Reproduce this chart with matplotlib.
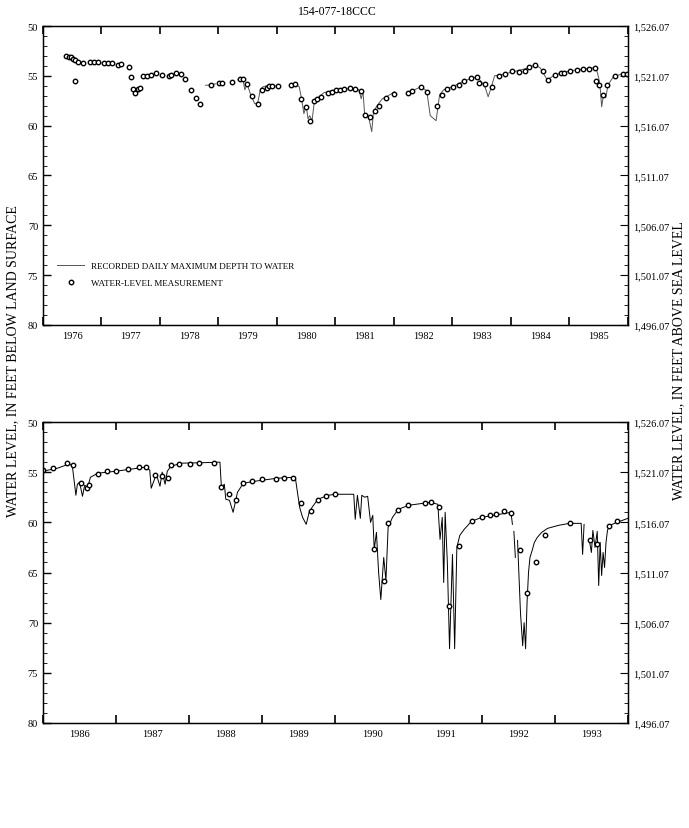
import numpy as np
import matplotlib
matplotlib.use("Agg")
import matplotlib.pyplot as plt
from matplotlib.ticker import MultipleLocator, FixedLocator, NullFormatter, FuncFormatter

plt.rcParams['font.family'] = ['Liberation Serif', 'DejaVu Serif']

title = "154-077-18CCC"
# ---- top panel (1976-1986) measurements ----
m1_off = [0.388,0.441,0.479,0.517,0.555,0.593,0.548,0.677,0.798,0.875,0.935,1.042,1.103,1.186,1.278,1.331,
          1.468,1.513,1.544,1.574,1.620,1.658,1.711,1.772,1.848,1.932,2.030,2.152,2.183,2.266,2.365,2.426,
          2.525,2.608,2.692,2.875,3.004,3.065,3.224,3.361,3.414,3.490,3.567,3.673,3.741,3.825,3.871,3.916,
          4.023,4.236,4.312,4.418,4.494,4.563,4.639,4.677,4.753,4.867,4.935,5.004,5.080,5.148,5.240,5.331,
          5.430,5.506,5.582,5.673,5.749,5.863,6.000,6.243,6.304,6.456,6.563,6.730,6.814,6.913,7.004,7.118,
          7.202,7.323,7.414,7.460,7.551,7.673,7.795,7.901,8.023,8.129,8.236,8.312,8.411,8.540,8.639,8.753,
          8.859,8.905,9.011,9.125,9.224,9.338,9.430,9.452,9.513,9.574,9.650,9.772,9.909,9.985]
m1_val = [53.01,53.07,53.07,53.27,53.41,53.61,55.48,53.74,53.64,53.61,53.61,53.68,53.68,53.74,53.88,53.81,
          54.11,55.08,56.28,56.75,56.35,56.21,55.01,55.01,54.94,54.68,54.88,55.01,54.94,54.74,54.81,55.28,
          56.41,57.18,57.79,55.91,55.68,55.68,55.65,55.35,55.35,55.81,56.98,57.79,56.38,56.21,56.01,56.01,
          56.01,55.95,55.78,57.28,58.09,59.52,57.52,57.35,57.08,56.75,56.58,56.41,56.41,56.35,56.25,56.28,
          56.48,58.93,59.09,58.56,58.02,57.18,56.85,56.75,56.48,56.08,56.58,58.02,56.88,56.28,56.11,55.95,
          55.51,55.21,55.11,55.75,55.78,56.11,54.98,54.81,54.51,54.58,54.51,54.14,53.91,54.55,55.41,54.94,
          54.68,54.68,54.48,54.41,54.34,54.31,54.24,55.55,55.95,56.92,55.88,55.05,54.81,54.81]
# recorded line, top panel (NaN = gap)
l1_off = [2.78,2.88,2.95,np.nan,3.33,3.42,3.45,3.49,3.55,3.62,3.67,3.72,3.76,3.82,3.90,4.03,np.nan,
          4.25,4.31,4.38,4.42,4.46,4.50,4.53,4.56,4.60,4.64,4.70,4.80,5.00,5.20,5.33,5.40,5.44,5.47,5.50,
          5.55,5.58,5.62,5.65,5.70,5.80,5.90,6.01,np.nan,6.22,6.35,6.46,6.56,6.62,6.68,6.72,6.78,6.85,
          7.00,7.20,7.42,7.48,7.55,7.61,7.66,7.72,7.90,8.10,8.30,8.41,8.50,8.62,8.75,9.00,9.40,9.46,9.50,
          9.53,9.55,9.58,9.62,9.66,9.75,9.90,10.0]
l1_val = [55.95,55.9,55.8,np.nan,55.4,55.4,56.4,55.8,56.9,57.8,57.7,56.3,56.1,56.0,56.0,56.0,np.nan,
          55.9,55.8,56.1,57.3,58.8,58.0,59.3,59.0,59.5,57.5,57.2,56.7,56.4,56.3,56.3,56.4,57.3,56.5,59.0,
          58.9,59.5,60.6,58.6,58.1,57.3,57.0,56.6,np.nan,56.8,56.4,56.1,56.5,59.0,59.3,59.5,56.9,56.4,
          56.1,55.5,55.1,55.5,56.0,57.1,56.2,55.0,54.8,54.5,54.2,53.9,54.2,55.4,54.9,54.5,54.2,54.3,55.2,
          56.5,58.1,57.0,57.2,55.9,55.1,54.8,54.8]

# ---- bottom panel (1986-1994) measurements ----
m2_off = [0.006,0.140,0.328,0.407,0.522,0.601,0.631,0.753,0.880,1.002,1.160,1.311,1.403,1.530,1.633,1.706,
          1.749,1.864,2.004,2.131,2.338,2.435,2.544,2.635,2.738,2.854,2.993,3.182,3.297,3.418,3.534,3.667,
          3.758,3.868,3.995,4.529,4.663,4.724,4.857,4.997,5.222,5.301,5.422,5.550,5.689,5.865,6.005,6.120,
          6.199,6.302,6.406,6.521,6.624,6.745,6.861,7.207,7.480,7.577,7.747,7.857]
m2_val = [54.81,54.61,54.04,54.24,56.10,56.53,56.23,55.14,54.87,54.84,54.71,54.47,54.47,55.27,55.34,55.54,
          54.31,54.14,54.14,54.11,54.04,56.50,57.16,57.76,56.10,55.87,55.70,55.63,55.54,55.54,58.12,58.88,
          57.76,57.42,57.13,62.69,65.81,60.11,58.72,58.29,58.12,57.95,58.49,68.33,62.33,59.88,59.48,59.28,
          59.12,58.82,59.08,62.79,67.04,63.95,61.24,60.08,61.73,62.20,60.34,59.88]
l2_off = [0.0,0.2,0.35,0.40,0.45,0.47,0.50,0.54,0.57,0.61,0.65,0.75,1.0,1.4,1.46,1.48,1.55,1.60,1.63,1.67,
          1.70,1.75,1.90,2.2,
          2.42,2.44,2.48,2.50,2.55,2.60,2.66,2.74,2.9,3.2,3.45,
          3.51,3.55,3.60,3.64,3.68,3.76,3.9,4.0,4.25,
          4.27,4.30,4.34,4.36,4.40,4.44,4.48,4.51,4.53,4.56,4.59,4.62,4.66,4.69,4.72,4.78,4.86,5.0,5.3,
          5.40,5.43,5.46,5.48,5.50,5.53,5.56,5.60,5.63,5.66,5.70,5.76,5.86,6.0,6.4,6.42,
          np.nan,6.44,6.46,np.nan,
          6.49,6.53,6.56,6.58,6.60,6.62,6.64,6.66,6.69,6.72,6.76,6.82,6.9,7.05,7.2,7.36,7.38,7.40,np.nan,
          7.47,7.50,7.52,7.55,7.58,7.60,7.62,7.64,7.66,7.68,7.70,7.72,7.75,7.85,8.0]
l2_val = [54.9,54.6,54.2,54.3,57.3,56.2,56.0,57.4,56.3,56.5,55.5,55.1,54.9,54.5,54.8,56.6,55.2,56.4,55.0,
          56.2,54.9,54.4,54.1,54.05,
          54.0,56.5,56.2,57.7,57.8,59.0,57.0,56.1,55.9,55.6,55.5,
          58.5,59.5,60.2,59.0,58.5,57.7,57.3,57.2,57.2,
          59.7,57.3,59.6,57.3,57.5,57.4,60.0,59.3,62.7,61.0,65.0,67.7,63.5,65.8,60.5,59.5,58.7,58.3,58.0,
          58.2,61.7,59.5,66.0,59.0,64.0,72.6,63.2,72.6,62.5,61.3,60.7,59.9,59.5,59.0,60.2,
          np.nan,60.9,63.5,np.nan,
          61.8,69.0,72.3,70.0,72.6,68.0,65.0,63.5,62.8,62.0,61.5,61.0,60.6,60.3,60.1,60.1,63.2,60.2,np.nan,
          61.7,63.0,60.8,62.5,60.9,66.3,62.0,65.3,63.0,64.5,62.0,60.8,60.3,60.0,59.6]

ref_elev = 1576.07  # land-surface elevation (50 ft depth = 1526.07)

fig = plt.figure(figsize=(6.89, 8.29), dpi=100)
ax1 = fig.add_axes([0.0624, 0.6068, 0.849, 0.3606])
ax2 = fig.add_axes([0.0624, 0.1267, 0.849, 0.3630])

def style(ax, y0, nyears):
    ax.set_xlim(y0, y0 + nyears)
    ax.set_ylim(80, 50)
    ax.xaxis.set_major_locator(MultipleLocator(1))
    ax.xaxis.set_major_formatter(NullFormatter())
    ax.xaxis.set_minor_locator(FixedLocator([y0 + i + 0.5 for i in range(nyears)]))
    ax.xaxis.set_minor_formatter(FuncFormatter(lambda v, p: f"{int(v)}"))
    ax.tick_params(axis='x', which='minor', length=0, labelsize=7.5, pad=4)
    ax.tick_params(axis='x', which='major', direction='in', length=6, top=True, width=1.2)
    ax.yaxis.set_major_locator(MultipleLocator(5))
    ax.yaxis.set_minor_locator(MultipleLocator(1))
    ax.tick_params(axis='y', which='major', direction='in', length=6, labelsize=7.5, width=1.0)
    ax.tick_params(axis='y', which='minor', direction='in', length=3)
    ax.yaxis.set_major_formatter(FuncFormatter(lambda v, p: f"{int(v)}"))
    for s in ax.spines.values():
        s.set_linewidth(1.0)
    r = ax.twinx()
    r.set_ylim(ref_elev - 80, ref_elev - 50)
    r.yaxis.set_major_locator(FixedLocator([ref_elev - d for d in range(50, 81, 5)]))
    r.yaxis.set_minor_locator(FixedLocator([ref_elev - d for d in range(50, 81)]))
    r.yaxis.set_major_formatter(FuncFormatter(lambda v, p: f"{v:,.2f}"))
    r.tick_params(axis='y', which='major', direction='in', length=6, labelsize=7.5)
    r.tick_params(axis='y', which='minor', direction='in', length=3)
    return r

style(ax1, 1976, 10)
style(ax2, 1986, 8)

ax1.plot(1976 + np.array(l1_off), l1_val, color='#555555', lw=0.7,
         label="RECORDED DAILY MAXIMUM DEPTH TO WATER")
ax1.plot(1976 + np.array(m1_off), m1_val, 'o', ms=3.2, mfc='white', mec='black', mew=1.0,
         label="WATER-LEVEL MEASUREMENT")
ax2.plot(1986 + np.array(l2_off), l2_val, color='black', lw=0.7)
ax2.plot(1986 + np.array(m2_off), m2_val, 'o', ms=3.2, mfc='white', mec='black', mew=1.0)

ax1.legend(loc='lower left', bbox_to_anchor=(0.01, 0.1), frameon=False, fontsize=6.5,
           handlelength=3, labelspacing=0.9)

fig.text(0.49, 0.985, title, ha='center', va='center', fontsize=8.5)
fig.text(0.018, 0.565, "WATER LEVEL, IN FEET BELOW LAND SURFACE", rotation=90,
         ha='center', va='center', fontsize=10)
fig.text(0.985, 0.565, "WATER LEVEL, IN FEET ABOVE SEA LEVEL", rotation=90,
         ha='center', va='center', fontsize=10)

fig.savefig("out.png", dpi=100)
